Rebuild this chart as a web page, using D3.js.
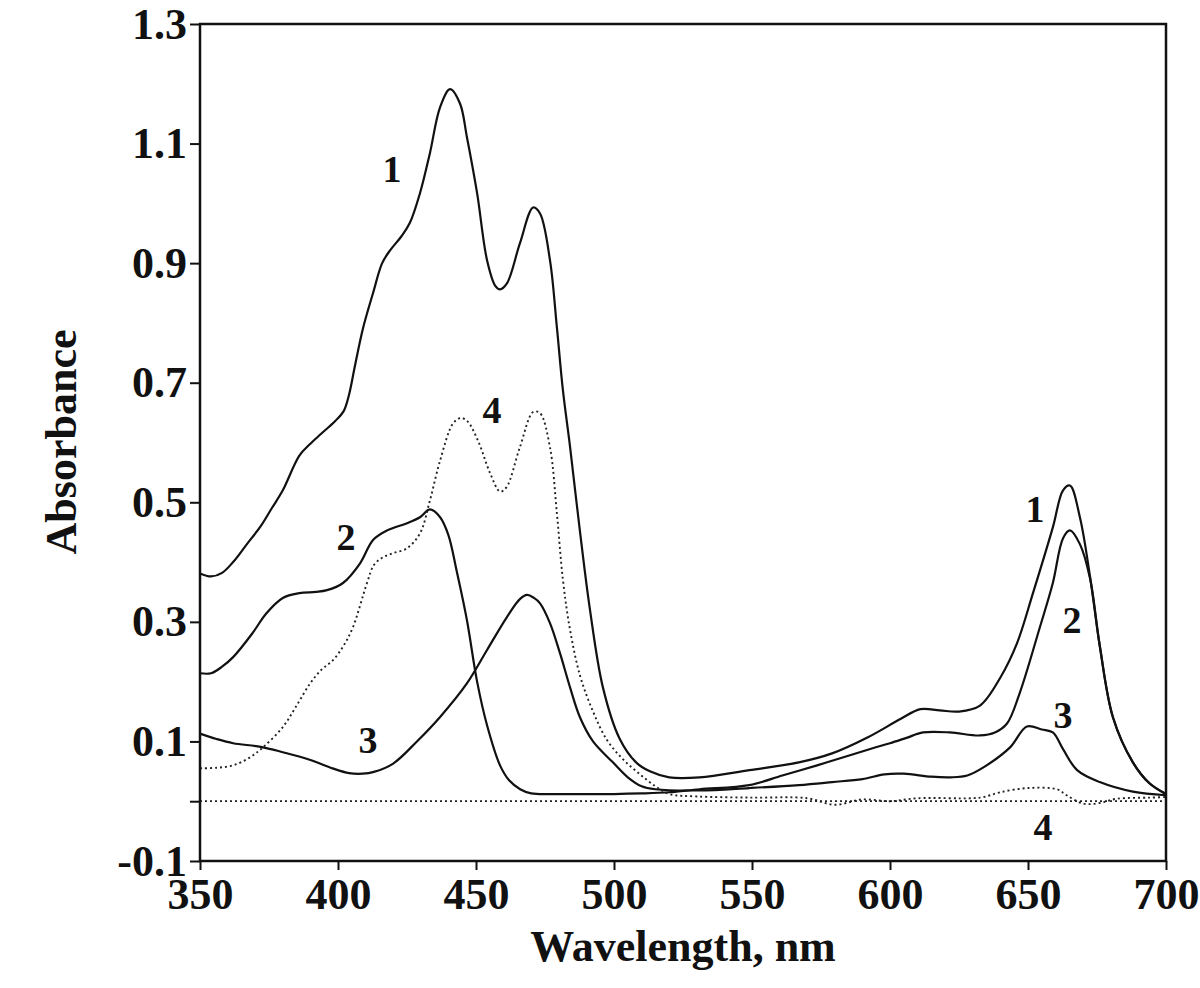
<!DOCTYPE html>
<html>
<head>
<meta charset="utf-8">
<script src="https://cdn.jsdelivr.net/npm/d3@7"></script>
<style>
  html, body { margin: 0; padding: 0; background: #fff; }
  svg { display: block; }
  text { font-family: "Liberation Serif", "Times New Roman", serif; font-weight: bold; fill: #111; }
</style>
</head>
<body>
<svg id="chart" width="1200" height="988"></svg>
<script>
// ---- data ----
const xTicks = [350, 400, 450, 500, 550, 600, 650, 700];
const yTicks = [-0.1, 0, 0.1, 0.3, 0.5, 0.7, 0.9, 1.1, 1.3];
const yTickLabels = ["-0.1", "", "0.1", "0.3", "0.5", "0.7", "0.9", "1.1", "1.3"];
const xLabel = "Wavelength, nm";
const yLabel = "Absorbance";

const wl1 = [350,354,358,362,367,372,376,380,386,390,394,399,402,404,406,409,412.7,416,418.8,423,426,429.7,433.3,437,440.6,444.2,446.7,450.4,454,457,458.7,461.2,465.9,470.7,473.2,476.8,479.3,481.5,484.1,487.7,491.3,496,502,508,513,520,531,549,567,579,592,603.6,611,618,625,632.6,640,646,651.8,659,662.7,665.2,668.8,672.5,676,680.8,688,694,700];
const abs1 = [0.381,0.376,0.382,0.40,0.43,0.46,0.49,0.52,0.578,0.598,0.615,0.636,0.652,0.68,0.725,0.79,0.85,0.90,0.921,0.945,0.967,1.017,1.084,1.161,1.191,1.167,1.111,1.017,0.905,0.862,0.856,0.866,0.933,0.993,0.983,0.905,0.793,0.687,0.592,0.45,0.32,0.19,0.105,0.065,0.05,0.04,0.04,0.052,0.065,0.08,0.107,0.137,0.154,0.152,0.150,0.160,0.207,0.264,0.348,0.458,0.52,0.528,0.475,0.375,0.26,0.14,0.065,0.03,0.012];

const wl2 = [350,354,358,362,369,374,380,386,392,396,401.8,408,412.7,417.8,425,429.7,433.3,437,440,443,446.7,450.4,454,458.7,462,466,470,480,490,500,510,520,531,549,561,573.6,585.5,594,600,606,612,621.7,632.6,638,642.4,647,654.3,659,662.7,665.2,668.8,672.5,676,680.8,688,694,700];
const abs2 = [0.214,0.214,0.225,0.241,0.281,0.314,0.34,0.348,0.35,0.353,0.365,0.398,0.437,0.453,0.465,0.475,0.488,0.475,0.445,0.385,0.303,0.20,0.127,0.06,0.035,0.02,0.013,0.012,0.012,0.012,0.013,0.015,0.02,0.027,0.043,0.06,0.077,0.089,0.097,0.106,0.115,0.115,0.11,0.115,0.13,0.181,0.291,0.365,0.44,0.453,0.43,0.372,0.26,0.14,0.065,0.03,0.012];

const wl3 = [350,356,362,372,380,390,398,404,409,413,420,428.6,437,446.7,454,461.2,465.9,468.5,471,473.2,476.8,480.4,484.1,487.7,492.4,499.6,505,510,515,531,549,567,579,590,598,605,615,622,628,634,643.5,649.6,655,659,662.7,667.8,676,688,700];
const abs3 = [0.113,0.104,0.097,0.091,0.082,0.069,0.055,0.047,0.046,0.049,0.063,0.10,0.141,0.197,0.253,0.308,0.338,0.345,0.34,0.331,0.298,0.248,0.19,0.14,0.10,0.065,0.04,0.025,0.02,0.018,0.022,0.027,0.032,0.037,0.045,0.046,0.041,0.04,0.043,0.057,0.09,0.125,0.12,0.115,0.087,0.052,0.032,0.016,0.01];

const wl4 = [350,356,362,368,372.8,380,385,389.9,394,398.2,402,405.4,410.5,413,416.3,420,425,429.7,433.3,437,441.7,444.5,447,451,455,458.7,461,465.9,470.7,473.2,476.8,479.3,481.5,484.1,487.7,492.4,497.5,503.3,509.4,515,520,530,550,570,580,590,600,610,630,634,640,650,660.5,664,670,676,682,694,700];
const abs4 = [0.055,0.056,0.06,0.073,0.09,0.124,0.16,0.197,0.22,0.236,0.26,0.291,0.365,0.395,0.408,0.415,0.423,0.448,0.503,0.57,0.632,0.641,0.635,0.60,0.55,0.518,0.525,0.592,0.651,0.649,0.592,0.482,0.37,0.286,0.21,0.15,0.102,0.07,0.045,0.025,0.012,0.008,0.006,0.005,-0.006,0.003,0.0,0.005,0.005,0.007,0.015,0.022,0.02,0.01,-0.004,-0.003,0.004,0.006,0.007];

const wlBase = [350,700];
const absBase = [0,0];

const curveLabels = [
  {t:"1", wl:419.6, a:1.035}, {t:"1", wl:652.5, a:0.467},
  {t:"2", wl:402.9, a:0.421}, {t:"2", wl:665.9, a:0.282},
  {t:"3", wl:410.9, a:0.080}, {t:"3", wl:662.7, a:0.122},
  {t:"4", wl:455.8, a:0.632}, {t:"4", wl:655.4, a:-0.065}
];

// ---- chart ----
const svg = d3.select("#chart");
const m = {left:200, top:24, right:34, bottom:127};
const W = 1200 - m.left - m.right, H = 988 - m.top - m.bottom;
const g = svg.append("g").attr("transform", `translate(${m.left},${m.top})`);

const x = d3.scaleLinear().domain([350,700]).range([0,W]);
const y = d3.scaleLinear().domain([-0.1,1.3]).range([H,0]);

const line = d3.line().x(d=>x(d[0])).y(d=>y(d[1])).curve(d3.curveCatmullRom.alpha(0.5));
const zip = (a,b)=>a.map((v,i)=>[v,b[i]]);

// baseline dotted
g.append("path").datum(zip(wlBase,absBase)).attr("d",line)
  .attr("fill","none").attr("stroke","#222").attr("stroke-width",1.8).attr("stroke-dasharray","2,3");

[[wl1,abs1],[wl2,abs2],[wl3,abs3]].forEach(([w,a])=>{
  g.append("path").datum(zip(w,a)).attr("d",line)
    .attr("fill","none").attr("stroke","#111").attr("stroke-width",2.2).attr("stroke-linejoin","round");
});
g.append("path").datum(zip(wl4,abs4)).attr("d",line)
  .attr("fill","none").attr("stroke","#222").attr("stroke-width",1.9).attr("stroke-dasharray","2,3");

// frame
g.append("rect").attr("x",0).attr("y",0).attr("width",W).attr("height",H)
  .attr("fill","none").attr("stroke","#111").attr("stroke-width",2.5);

// axes
const xAxis = g.append("g").attr("transform",`translate(0,${H})`)
  .call(d3.axisBottom(x).tickValues(xTicks).tickFormat(d3.format("d")).tickSize(9).tickPadding(8));
const yAxis = g.append("g")
  .call(d3.axisLeft(y).tickValues(yTicks).tickFormat((d,i)=>yTickLabels[i]).tickSize(10).tickPadding(3));
[xAxis,yAxis].forEach(a=>{
  a.select(".domain").remove();
  a.selectAll("line").attr("stroke","#111").attr("stroke-width",2);
  a.selectAll("text").attr("font-family","'Liberation Serif', serif").attr("font-weight","bold")
    .attr("font-size",44).attr("fill","#111");
});

// axis titles
svg.append("text").attr("x",683).attr("y",961).attr("text-anchor","middle")
  .attr("font-size",44).text(xLabel);
svg.append("text").attr("transform","translate(76,442) rotate(-90)").attr("text-anchor","middle")
  .attr("font-size",44).text(yLabel);

// curve labels
g.selectAll("text.cl").data(curveLabels).enter().append("text").attr("class","cl")
  .attr("x",d=>x(d.wl)).attr("y",d=>y(d.a)).attr("text-anchor","middle")
  .attr("font-size",38).text(d=>d.t);
</script>
</body>
</html>
